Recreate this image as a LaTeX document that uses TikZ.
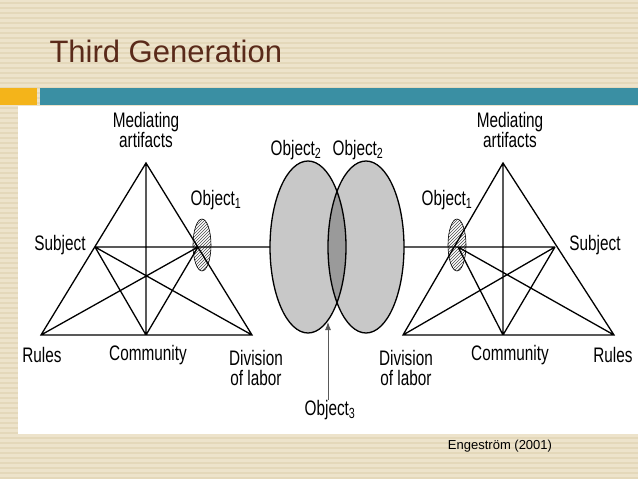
\documentclass[tikz,border=0pt]{standalone}
\usepackage{fontspec}
\setmainfont{Liberation Sans}
\usetikzlibrary{patterns,arrows.meta}
\definecolor{beige}{HTML}{EDE3CB}
\definecolor{stripe}{HTML}{E4D8BA}
\definecolor{titlec}{HTML}{5A2A1A}
\definecolor{teal}{HTML}{3A8FA3}
\definecolor{orng}{HTML}{F4B41A}
\definecolor{ellg}{HTML}{C8C8C8}
\definecolor{elld}{HTML}{9A9A9A}
\newcommand{\sbs}[1]{\textsubscript{#1}}
\begin{document}
\begin{tikzpicture}[x=1pt,y=-1pt,
  lab/.style={font=\fontsize{21}{20}\selectfont,xscale=0.73,transform shape,align=center,inner sep=0pt},
  ln/.style={line width=1.3pt},
  hat/.style={draw,line width=0.6pt,pattern=north east lines,pattern color=black!70}]
\useasboundingbox (0,0) rectangle (638,479);
\fill[beige] (0,0) rectangle (638,479);
\foreach \y in {2,7,...,479} \fill[stripe] (0,\y) rectangle (638,\y+1.5);
\node[text=titlec,font=\fontsize{31}{33}\selectfont,anchor=west] (title) at (46,51) {Third Generation};
\fill[orng] (0,88) rectangle (37,105);
\fill[teal] (40,88) rectangle (638,105);
\fill[white] (18,106) rectangle (638,434);
% big ellipses
\fill[ellg] (308,247) ellipse [x radius=38,y radius=86];
\fill[ellg] (366,247) ellipse [x radius=38,y radius=86];
\begin{scope}
\clip (308,247) ellipse [x radius=38,y radius=86];
\fill[elld] (366,247) ellipse [x radius=38,y radius=86];
\end{scope}
\draw[ln] (308,247) ellipse [x radius=38,y radius=86];
\draw[ln] (366,247) ellipse [x radius=38,y radius=86];
% left triangle
\coordinate (LA) at (146,163); \coordinate (LR) at (41,335); \coordinate (LD) at (252,335);
\coordinate (LC) at (146,335); \coordinate (LS) at (95,247); \coordinate (LO) at (198,247);
\coordinate (LE) at (270,247);
\filldraw[hat] (202,245) ellipse [x radius=9,y radius=26];
\draw[ln] (LA)--(LR)--(LD)--cycle (LA)--(LC) (LS)--(LE) (LS)--(LC) (LS)--(LD) (LR)--(LO) (LC)--(LO);
% right triangle
\coordinate (RA) at (503,163); \coordinate (RR) at (614,335); \coordinate (RD) at (403,335);
\coordinate (RC) at (503,335); \coordinate (RS) at (555,247); \coordinate (RO) at (458,247);
\coordinate (RE) at (404,247);
\filldraw[hat] (457,245) ellipse [x radius=9,y radius=26];
\draw[ln] (RA)--(RR)--(RD)--cycle (RA)--(RC) (RS)--(RE) (RS)--(RC) (RS)--(RD) (RR)--(RO) (RC)--(RO);
% object3 arrow
\node[lab] (o3) at (330,410) {Object\sbs{3}};
\coordinate (o3t) at (328,322);
\draw[gray!70!black,line width=0.9pt,-{Latex[length=8pt]}] (o3.north -| o3t) -- (o3t);
% labels
\node[lab] (lma) at (146,130) {Mediating\\artifacts};
\node[lab] (lo1) at (216,200) {Object\sbs{1}};
\node[lab] (ls) at (60,245) {Subject};
\node[lab] (lr) at (42,355) {Rules};
\node[lab] (lc) at (148,355) {Community};
\node[lab] (ld) at (256,368) {Division\\of labor};
\node[lab] (o2a) at (296,150) {Object\sbs{2}};
\node[lab] (o2b) at (358,150) {Object\sbs{2}};
\node[lab] (rma) at (510,130) {Mediating\\artifacts};
\node[lab] (ro1) at (447,200) {Object\sbs{1}};
\node[lab] (rs) at (595,245) {Subject};
\node[lab] (rd) at (406,368) {Division\\of labor};
\node[lab] (rc) at (510,355) {Community};
\node[lab] (rr) at (613,355) {Rules};
\node[font=\fontsize{13}{14}\selectfont] (ref) at (500,446) {Engeström (2001)};
\end{tikzpicture}
\end{document}
